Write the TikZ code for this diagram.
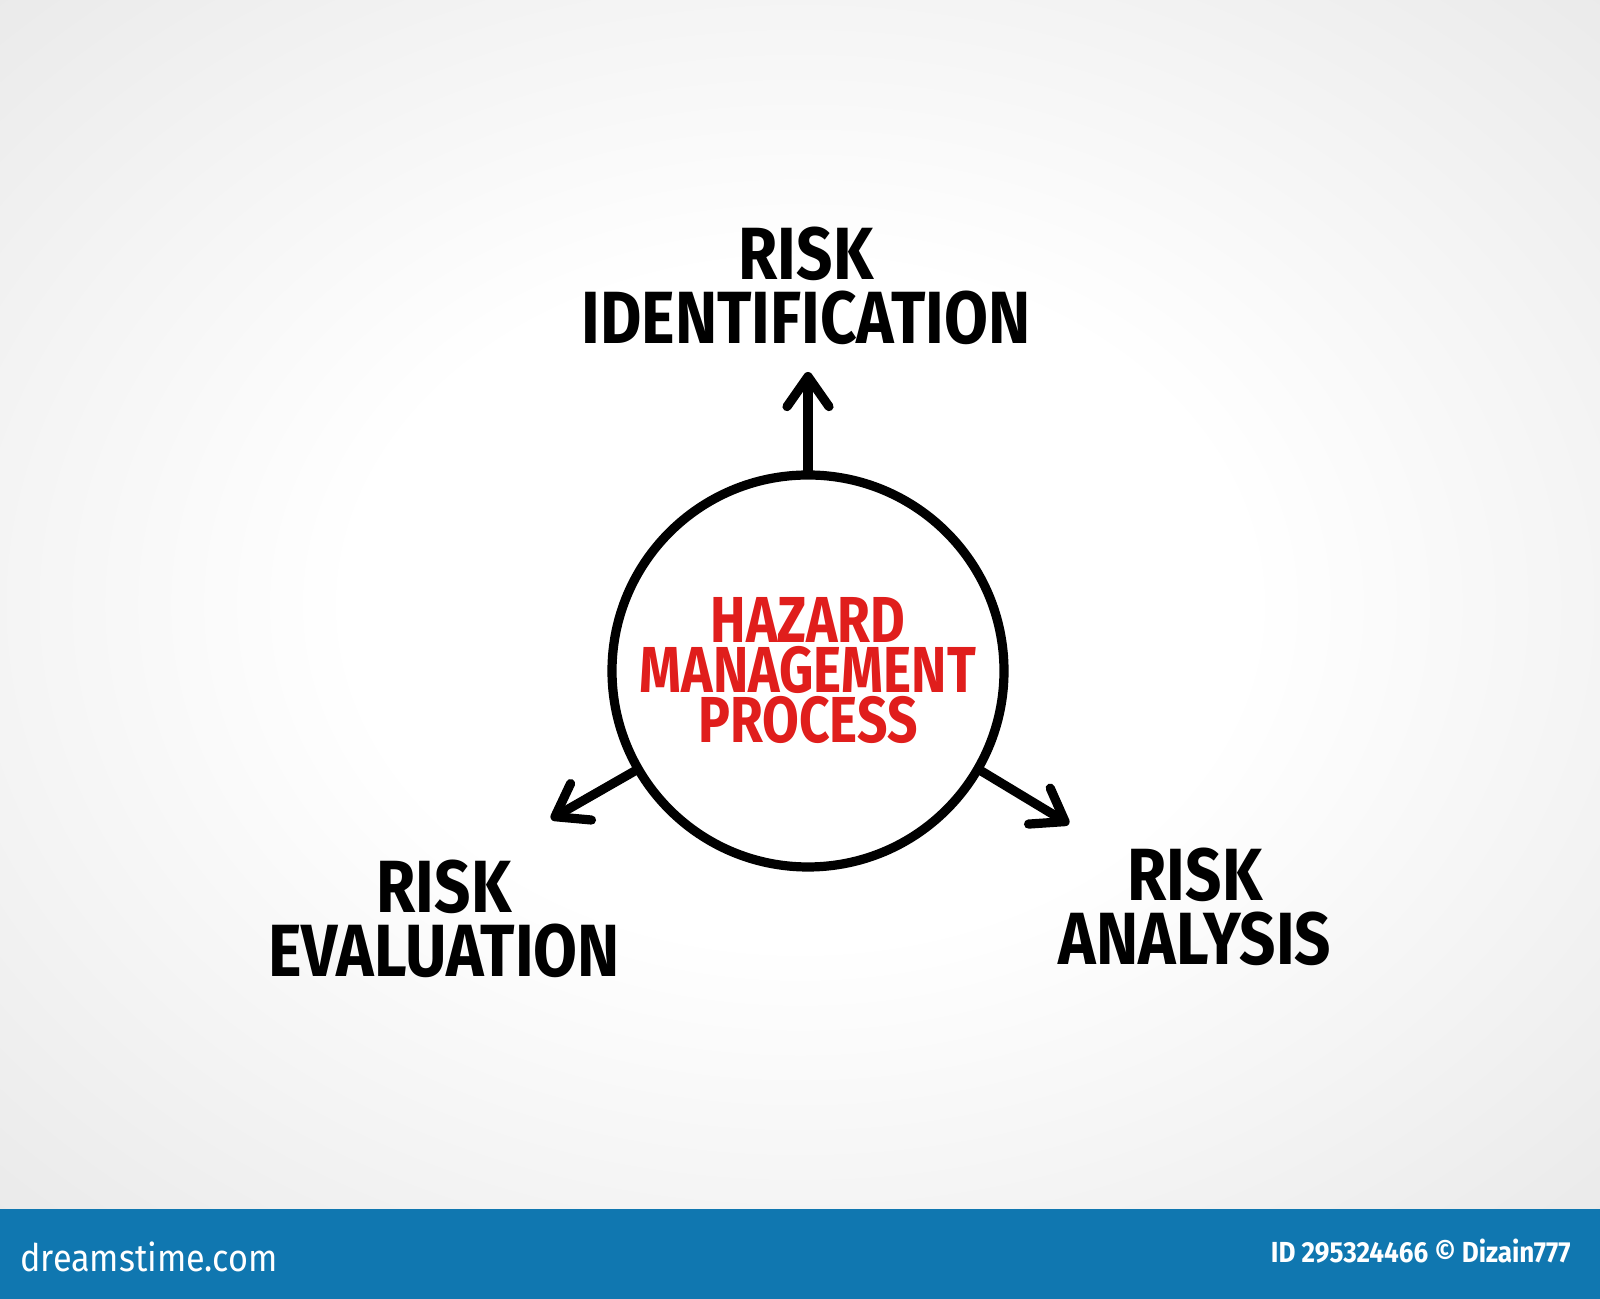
\documentclass[tikz,border=0pt]{standalone}
\usepackage{fontspec}
\setmainfont{Fira Sans}
\newfontfamily\markerfont[FakeStretch=0.86]{Fira Sans}
\newfontfamily\hubfont[FakeStretch=0.82]{Fira Sans}
\newfontfamily\barfont[FakeStretch=0.9]{Fira Sans}
\usetikzlibrary{arrows.meta}
\definecolor{hazardred}{RGB}{224,30,28}
\definecolor{barblue}{RGB}{16,119,176}
\pgfdeclareradialshading{vignette}{\pgfpoint{0bp}{0bp}}{color(0bp)=(white); color(14bp)=(white); color(35bp)=(black!8); color(50bp)=(black!11)}

\begin{document}
\begin{tikzpicture}[x=0.5pt, y=0.5pt,
    steplabel/.style={font=\markerfont\bfseries\fontsize{37}{32}\selectfont, align=center, text=black, inner sep=0pt},
    hub/.style={circle, draw=black, line width=4.6pt, fill=white, minimum size=196pt, inner sep=0pt, align=center, text=hazardred, font=\hubfont\bfseries\fontsize{32.5}{25}\selectfont},
    branch/.style={line width=4.6pt, line cap=round, -{Straight Barb[length=15pt, width=21pt, line cap=round, line join=round]}},
    bartext/.style={text=white, inner sep=0pt}]
        \useasboundingbox (0,0) rectangle (1600,1299);

        % Background and footer bar
        \shade[shading=vignette] (0,90) rectangle (1600,1299);
        \fill[barblue] (0,0) rectangle (1600,90);

        % Central circle
        \node[hub] (hmp) at (808,628) {HAZARD\\MANAGEMENT\\PROCESS};

        % Process steps
        \node[steplabel] (ident) at (806,1013) {RISK\\IDENTIFICATION};
        \node[steplabel] (eval) at (444,380) {RISK\\EVALUATION};
        \node[steplabel] (anal) at (1195,392) {RISK\\ANALYSIS};

        % Arrow ends
        \coordinate (tipI) at (808,927);
        \coordinate (tipE) at (551,480);
        \coordinate (tipA) at (1069,475);

        % Arrows out of the circle
        \draw[branch] (hmp.north) -- (tipI);
        \draw[branch] (hmp.210) -- (tipE);
        \draw[branch] (hmp.-30) -- (tipA);

        % Footer texts
        \node[bartext, anchor=base west, font=\barfont\fontsize{19}{22}\selectfont] (site) at (20,27) {dreamstime.com};
        \node[bartext, anchor=base east, font=\barfont\bfseries\fontsize{14.5}{17}\selectfont] (credit) at (1571,36) {ID 295324466 © Dizain777};

    \end{tikzpicture}
\end{document}
